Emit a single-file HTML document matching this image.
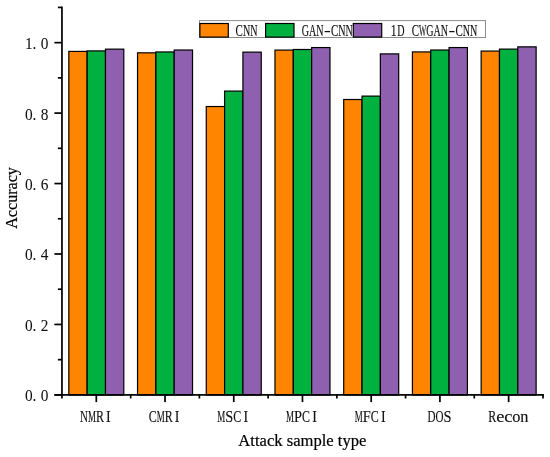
<!DOCTYPE html>
<html lang="en"><head><meta charset="utf-8"><title>Accuracy by attack sample type</title>
<style>html,body{margin:0;padding:0;background:#fff}svg{display:block}</style></head>
<body>
<svg width="550" height="457" viewBox="0 0 550 457" role="img" aria-label="Bar chart of accuracy by attack sample type for CNN, GAN-CNN and 1D CWGAN-CNN">
<rect width="550" height="457" fill="#fff"/>
<g stroke="#000" stroke-width="1.2" shape-rendering="auto">
<rect x="68.82" y="51.42" width="18.33" height="343.58" fill="#FF8500"/>
<rect x="87.15" y="50.90" width="18.33" height="344.10" fill="#00B140"/>
<rect x="105.47" y="49.14" width="18.33" height="345.86" fill="#8F5FB0"/>
<rect x="137.54" y="52.83" width="18.33" height="342.17" fill="#FF8500"/>
<rect x="155.87" y="51.95" width="18.33" height="343.05" fill="#00B140"/>
<rect x="174.19" y="50.02" width="18.33" height="344.98" fill="#8F5FB0"/>
<rect x="206.27" y="106.53" width="18.33" height="288.47" fill="#FF8500"/>
<rect x="224.59" y="91.09" width="18.33" height="303.91" fill="#00B140"/>
<rect x="242.92" y="52.13" width="18.33" height="342.87" fill="#8F5FB0"/>
<rect x="274.99" y="50.09" width="18.33" height="344.91" fill="#FF8500"/>
<rect x="293.31" y="49.49" width="18.33" height="345.51" fill="#00B140"/>
<rect x="311.64" y="47.56" width="18.33" height="347.44" fill="#8F5FB0"/>
<rect x="343.71" y="99.51" width="18.33" height="295.49" fill="#FF8500"/>
<rect x="362.03" y="96.11" width="18.33" height="298.89" fill="#00B140"/>
<rect x="380.36" y="53.88" width="18.33" height="341.12" fill="#8F5FB0"/>
<rect x="412.43" y="51.92" width="18.33" height="343.08" fill="#FF8500"/>
<rect x="430.76" y="50.02" width="18.33" height="344.98" fill="#00B140"/>
<rect x="449.08" y="47.56" width="18.33" height="347.44" fill="#8F5FB0"/>
<rect x="481.15" y="51.07" width="18.33" height="343.93" fill="#FF8500"/>
<rect x="499.48" y="49.11" width="18.33" height="345.89" fill="#00B140"/>
<rect x="517.80" y="46.86" width="18.33" height="348.14" fill="#8F5FB0"/>
</g>
<g fill="#000">
<rect x="61.10" y="6.57" width="1.7" height="389.18"/>
<rect x="54.4" y="394.05" width="489.45" height="1.7"/>
<rect x="54.4" y="394.05" width="7.6" height="1.7"/>
<rect x="57.9" y="358.82" width="4.1" height="1.7"/>
<rect x="54.4" y="323.60" width="7.6" height="1.7"/>
<rect x="57.9" y="288.37" width="4.1" height="1.7"/>
<rect x="54.4" y="253.15" width="7.6" height="1.7"/>
<rect x="57.9" y="217.92" width="4.1" height="1.7"/>
<rect x="54.4" y="182.70" width="7.6" height="1.7"/>
<rect x="57.9" y="147.47" width="4.1" height="1.7"/>
<rect x="54.4" y="112.25" width="7.6" height="1.7"/>
<rect x="57.9" y="77.02" width="4.1" height="1.7"/>
<rect x="54.4" y="41.80" width="7.6" height="1.7"/>
<rect x="57.9" y="6.57" width="4.1" height="1.7"/>
<rect x="61.10" y="394.5" width="1.7" height="4.0"/>
<rect x="129.82" y="394.5" width="1.7" height="4.0"/>
<rect x="198.54" y="394.5" width="1.7" height="4.0"/>
<rect x="267.26" y="394.5" width="1.7" height="4.0"/>
<rect x="335.99" y="394.5" width="1.7" height="4.0"/>
<rect x="404.71" y="394.5" width="1.7" height="4.0"/>
<rect x="473.43" y="394.5" width="1.7" height="4.0"/>
<rect x="542.15" y="394.5" width="1.7" height="4.0"/>
<rect x="95.46" y="394.5" width="1.7" height="7.6"/>
<rect x="164.18" y="394.5" width="1.7" height="7.6"/>
<rect x="232.90" y="394.5" width="1.7" height="7.6"/>
<rect x="301.62" y="394.5" width="1.7" height="7.6"/>
<rect x="370.35" y="394.5" width="1.7" height="7.6"/>
<rect x="439.07" y="394.5" width="1.7" height="7.6"/>
<rect x="507.79" y="394.5" width="1.7" height="7.6"/>
</g>
<g font-family="'Liberation Serif', serif" font-size="16.7" fill="#111" stroke="#111" stroke-width="0.05" text-anchor="middle">
<text transform="translate(0,401.35) scale(0.92,1)" x="31.41 37.50 48.48" y="0">0.0</text>
<text transform="translate(0,330.90) scale(0.92,1)" x="31.41 37.50 48.48" y="0">0.2</text>
<text transform="translate(0,260.45) scale(0.92,1)" x="31.41 37.50 48.48" y="0">0.4</text>
<text transform="translate(0,190.00) scale(0.92,1)" x="31.41 37.50 48.48" y="0">0.6</text>
<text transform="translate(0,119.55) scale(0.92,1)" x="31.41 37.50 48.48" y="0">0.8</text>
<text transform="translate(0,49.10) scale(0.92,1)" x="31.41 37.50 48.48" y="0">1.0</text>
</g>
<g font-family="'Liberation Serif', serif" fill="#111" stroke="#111" stroke-width="0.15">
<text y="422" font-size="17.7" aria-label="NMRI" style="white-space:pre"><tspan x="79.91" textLength="8.00" lengthAdjust="spacingAndGlyphs">N</tspan><tspan x="87.91" textLength="8.00" lengthAdjust="spacingAndGlyphs">M</tspan><tspan x="95.91" textLength="8.00" lengthAdjust="spacingAndGlyphs">R</tspan><tspan x="106.09" textLength="4.64" lengthAdjust="spacingAndGlyphs">I</tspan></text>
<text y="422" font-size="17.7" aria-label="CMRI" style="white-space:pre"><tspan x="148.63" textLength="8.00" lengthAdjust="spacingAndGlyphs">C</tspan><tspan x="156.63" textLength="8.00" lengthAdjust="spacingAndGlyphs">M</tspan><tspan x="164.63" textLength="8.00" lengthAdjust="spacingAndGlyphs">R</tspan><tspan x="174.81" textLength="4.64" lengthAdjust="spacingAndGlyphs">I</tspan></text>
<text y="422" font-size="17.7" aria-label="MSCI" style="white-space:pre"><tspan x="217.35" textLength="8.00" lengthAdjust="spacingAndGlyphs">M</tspan><tspan x="225.35" textLength="8.00" lengthAdjust="spacingAndGlyphs">S</tspan><tspan x="233.35" textLength="8.00" lengthAdjust="spacingAndGlyphs">C</tspan><tspan x="243.53" textLength="4.64" lengthAdjust="spacingAndGlyphs">I</tspan></text>
<text y="422" font-size="17.7" aria-label="MPCI" style="white-space:pre"><tspan x="286.08" textLength="8.00" lengthAdjust="spacingAndGlyphs">M</tspan><tspan x="294.08" textLength="8.00" lengthAdjust="spacingAndGlyphs">P</tspan><tspan x="302.08" textLength="8.00" lengthAdjust="spacingAndGlyphs">C</tspan><tspan x="312.26" textLength="4.64" lengthAdjust="spacingAndGlyphs">I</tspan></text>
<text y="422" font-size="17.7" aria-label="MFCI" style="white-space:pre"><tspan x="354.80" textLength="8.00" lengthAdjust="spacingAndGlyphs">M</tspan><tspan x="362.80" textLength="8.00" lengthAdjust="spacingAndGlyphs">F</tspan><tspan x="370.80" textLength="8.00" lengthAdjust="spacingAndGlyphs">C</tspan><tspan x="380.98" textLength="4.64" lengthAdjust="spacingAndGlyphs">I</tspan></text>
<text y="422" font-size="17.7" aria-label="DOS" style="white-space:pre"><tspan x="427.52" textLength="8.00" lengthAdjust="spacingAndGlyphs">D</tspan><tspan x="435.52" textLength="8.00" lengthAdjust="spacingAndGlyphs">O</tspan><tspan x="443.52" textLength="8.00" lengthAdjust="spacingAndGlyphs">S</tspan></text>
<text y="422" font-size="17.7" aria-label="Recon" style="white-space:pre"><tspan x="488.24" textLength="8.00" lengthAdjust="spacingAndGlyphs">R</tspan><tspan x="496.16" textLength="8.16" lengthAdjust="spacingAndGlyphs">e</tspan><tspan x="504.16" textLength="8.16" lengthAdjust="spacingAndGlyphs">c</tspan><tspan x="512.16" textLength="8.16" lengthAdjust="spacingAndGlyphs">o</tspan><tspan x="520.16" textLength="8.16" lengthAdjust="spacingAndGlyphs">n</tspan></text>
</g>
<g font-family="'Liberation Serif', serif" font-size="16.6" fill="#000" stroke="#000" stroke-width="0.2" text-anchor="middle">
<text x="302.4" y="446.3">Attack sample type</text>
<text transform="translate(17.1,197.95) rotate(-90)" x="0" y="0" font-size="16.1">Accuracy</text>
</g>
<rect x="199.5" y="20.6" width="286" height="16.9" fill="#fff" stroke="#8c8c8c" stroke-width="1"/>
<rect x="199.90" y="23.5" width="28.4" height="13.6" fill="#FF8500" stroke="#000" stroke-width="1.2"/>
<rect x="265.60" y="23.5" width="28.4" height="13.6" fill="#00B140" stroke="#000" stroke-width="1.2"/>
<rect x="353.30" y="23.5" width="28.4" height="13.6" fill="#8F5FB0" stroke="#000" stroke-width="1.2"/>
<g font-family="'Liberation Serif', serif" fill="#111" stroke="#111" stroke-width="0.15">
<text y="35.7" font-size="16" aria-label="CNN" style="white-space:pre"><tspan x="235.60" textLength="7.28" lengthAdjust="spacingAndGlyphs">C</tspan><tspan x="242.88" textLength="7.28" lengthAdjust="spacingAndGlyphs">N</tspan><tspan x="250.16" textLength="7.28" lengthAdjust="spacingAndGlyphs">N</tspan></text>
<text y="35.7" font-size="16" aria-label="GAN-CNN" style="white-space:pre"><tspan x="301.80" textLength="7.28" lengthAdjust="spacingAndGlyphs">G</tspan><tspan x="309.08" textLength="7.28" lengthAdjust="spacingAndGlyphs">A</tspan><tspan x="316.36" textLength="7.28" lengthAdjust="spacingAndGlyphs">N</tspan><tspan x="323.93" textLength="6.70" lengthAdjust="spacingAndGlyphs">-</tspan><tspan x="330.92" textLength="7.28" lengthAdjust="spacingAndGlyphs">C</tspan><tspan x="338.20" textLength="7.28" lengthAdjust="spacingAndGlyphs">N</tspan><tspan x="345.48" textLength="7.28" lengthAdjust="spacingAndGlyphs">N</tspan></text>
<text y="35.7" font-size="16" aria-label="1D CWGAN-CNN" style="white-space:pre"><tspan x="390.63" textLength="5.82" lengthAdjust="spacingAndGlyphs">1</tspan><tspan x="397.18" textLength="7.28" lengthAdjust="spacingAndGlyphs">D</tspan> <tspan x="411.74" textLength="7.28" lengthAdjust="spacingAndGlyphs">C</tspan><tspan x="419.02" textLength="7.28" lengthAdjust="spacingAndGlyphs">W</tspan><tspan x="426.30" textLength="7.28" lengthAdjust="spacingAndGlyphs">G</tspan><tspan x="433.58" textLength="7.28" lengthAdjust="spacingAndGlyphs">A</tspan><tspan x="440.86" textLength="7.28" lengthAdjust="spacingAndGlyphs">N</tspan><tspan x="448.43" textLength="6.70" lengthAdjust="spacingAndGlyphs">-</tspan><tspan x="455.42" textLength="7.28" lengthAdjust="spacingAndGlyphs">C</tspan><tspan x="462.70" textLength="7.28" lengthAdjust="spacingAndGlyphs">N</tspan><tspan x="469.98" textLength="7.28" lengthAdjust="spacingAndGlyphs">N</tspan></text>
</g>
</svg>
</body></html>
